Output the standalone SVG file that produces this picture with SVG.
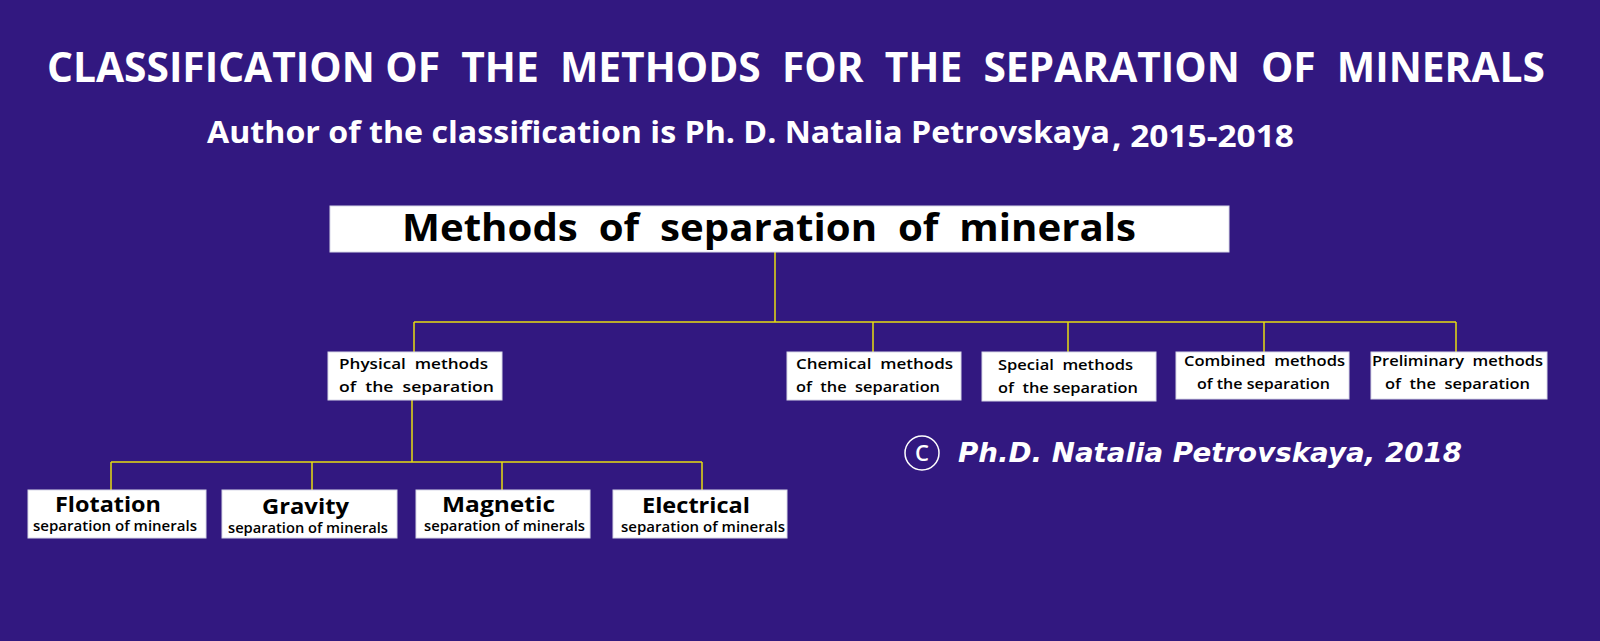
<svg xmlns="http://www.w3.org/2000/svg" width="1600" height="641" viewBox="0 0 1600 641">
<style>
text{white-space:pre}
.bg{fill:#321880}
.box{fill:#ffffff;stroke:#d8d8e8;stroke-width:1}
.w{fill:#ffffff;font-family:"Open Sans","DejaVu Sans",sans-serif;font-weight:bold}
.k{fill:#000000;font-family:"Open Sans","DejaVu Sans",sans-serif;font-weight:600}
.kb{fill:#000000;font-family:"Open Sans","DejaVu Sans",sans-serif;font-weight:bold}
.c{fill:none;stroke:#e6dc10;stroke-width:1.5}
</style>
<rect class="bg" x="0" y="0" width="1600" height="641"/>
<g id="title">
<text class="w" x="47" y="82" font-size="41" textLength="1498" lengthAdjust="spacingAndGlyphs" xml:space="preserve">CLASSIFICATION OF  THE  METHODS  FOR  THE  SEPARATION  OF  MINERALS</text>
<text class="w" x="207" y="143" font-size="30" textLength="903" lengthAdjust="spacingAndGlyphs">Author of the classification is Ph. D. Natalia Petrovskaya</text>
<text class="w" x="1112" y="147" font-size="30" textLength="182" lengthAdjust="spacingAndGlyphs">, 2015-2018</text>
</g>
<g id="connectors">
<path class="c" d="M775 252V322M414 322H1456M414 322V352M873 322V352M1068 322V352M1264 322V352M1456 322V352"/>
<path class="c" d="M412 400V462M111 462H702M111 462V490M312 462V490M502 462V490M702 462V490"/>
</g>
<g id="root">
<rect class="box" x="330" y="206" width="899" height="46"/>
<text class="kb" x="402" y="241" font-size="38" textLength="734" lengthAdjust="spacingAndGlyphs" xml:space="preserve">Methods  of  separation  of  minerals</text>
</g>
<g id="physical">
<rect class="box" x="328" y="352" width="174" height="48"/>
<text class="k" x="339" y="369" font-size="15" textLength="149" lengthAdjust="spacingAndGlyphs" xml:space="preserve">Physical  methods</text>
<text class="k" x="339" y="392" font-size="15" textLength="155" lengthAdjust="spacingAndGlyphs" xml:space="preserve">of  the  separation</text>
</g>
<g id="chemical">
<rect class="box" x="787" y="352" width="174" height="48"/>
<text class="k" x="796" y="369" font-size="15" textLength="157" lengthAdjust="spacingAndGlyphs" xml:space="preserve">Chemical  methods</text>
<text class="k" x="796" y="392" font-size="15" textLength="144" lengthAdjust="spacingAndGlyphs" xml:space="preserve">of  the  separation</text>
</g>
<g id="special">
<rect class="box" x="982" y="352" width="174" height="49"/>
<text class="k" x="998" y="370" font-size="15" textLength="135" lengthAdjust="spacingAndGlyphs" xml:space="preserve">Special  methods</text>
<text class="k" x="998" y="393" font-size="15" textLength="140" lengthAdjust="spacingAndGlyphs" xml:space="preserve">of  the separation</text>
</g>
<g id="combined">
<rect class="box" x="1176" y="352" width="173" height="47"/>
<text class="k" x="1184" y="366" font-size="15" textLength="161" lengthAdjust="spacingAndGlyphs" xml:space="preserve">Combined  methods</text>
<text class="k" x="1197" y="389" font-size="15" textLength="133" lengthAdjust="spacingAndGlyphs">of the separation</text>
</g>
<g id="preliminary">
<rect class="box" x="1371" y="352" width="176" height="47"/>
<text class="k" x="1372" y="366" font-size="15" textLength="171" lengthAdjust="spacingAndGlyphs" xml:space="preserve">Preliminary  methods</text>
<text class="k" x="1385" y="389" font-size="15" textLength="145" lengthAdjust="spacingAndGlyphs" xml:space="preserve">of  the  separation</text>
</g>
<g id="flotation">
<rect class="box" x="28" y="490" width="178" height="48"/>
<text class="kb" x="55" y="512" font-size="22" textLength="106" lengthAdjust="spacingAndGlyphs">Flotation</text>
<text class="k" x="33" y="531" font-size="14" textLength="164" lengthAdjust="spacingAndGlyphs">separation of minerals</text>
</g>
<g id="gravity">
<rect class="box" x="222" y="490" width="175" height="48"/>
<text class="kb" x="262" y="514" font-size="22" textLength="87" lengthAdjust="spacingAndGlyphs">Gravity</text>
<text class="k" x="228" y="533" font-size="14" textLength="160" lengthAdjust="spacingAndGlyphs">separation of minerals</text>
</g>
<g id="magnetic">
<rect class="box" x="416" y="490" width="174" height="48"/>
<text class="kb" x="442" y="512" font-size="22" textLength="113" lengthAdjust="spacingAndGlyphs">Magnetic</text>
<text class="k" x="424" y="531" font-size="14" textLength="161" lengthAdjust="spacingAndGlyphs">separation of minerals</text>
</g>
<g id="electrical">
<rect class="box" x="613" y="490" width="174" height="48"/>
<text class="kb" x="642" y="513" font-size="22" textLength="108" lengthAdjust="spacingAndGlyphs">Electrical</text>
<text class="k" x="621" y="532" font-size="14" textLength="164" lengthAdjust="spacingAndGlyphs">separation of minerals</text>
</g>
<g id="copyright">
<circle cx="922" cy="453" r="17" fill="none" stroke="#ffffff" stroke-width="1.5"/>
<text x="922" y="461" font-size="22" text-anchor="middle" fill="#ffffff" font-family="Open Sans, DejaVu Sans, sans-serif" font-weight="600">C</text>
<text x="958" y="462" font-size="26" fill="#ffffff" font-family="DejaVu Sans, Liberation Sans, sans-serif" font-weight="bold" font-style="italic" textLength="504" lengthAdjust="spacingAndGlyphs">Ph.D. Natalia Petrovskaya, 2018</text>
</g>
</svg>
